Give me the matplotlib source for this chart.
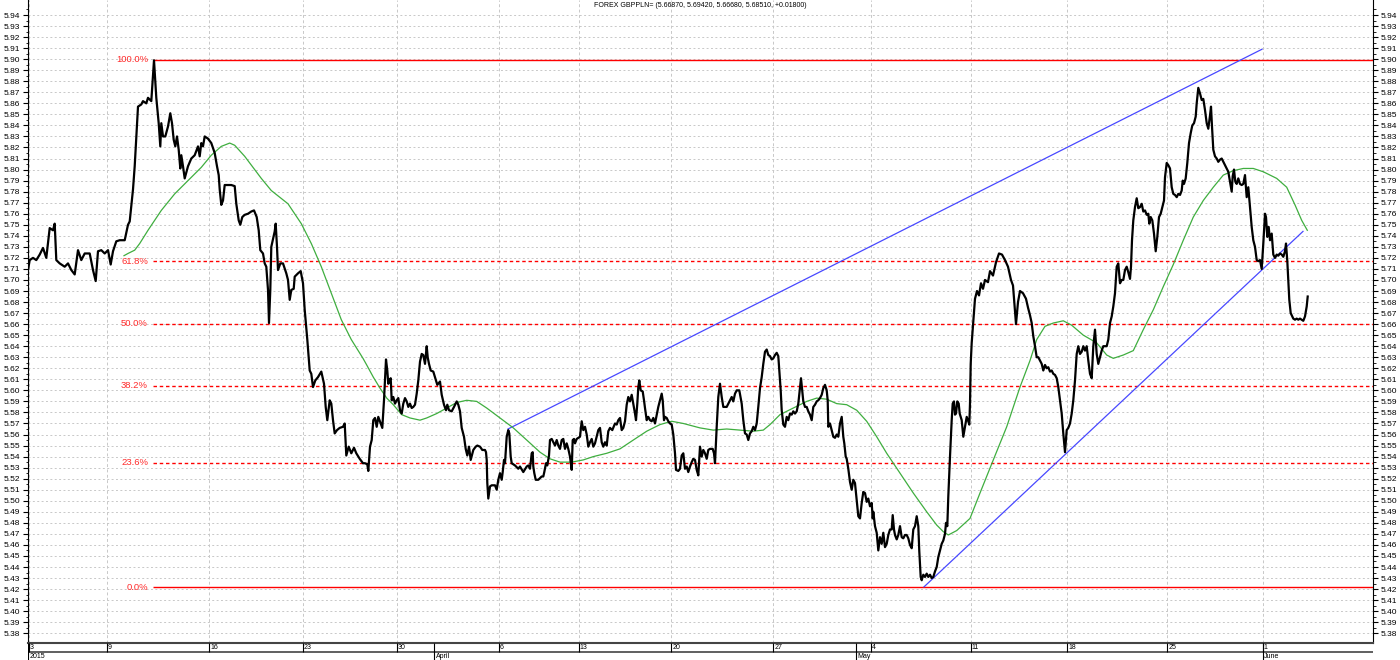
import matplotlib
matplotlib.use("Agg")
import numpy as np
import matplotlib.pyplot as plt
from matplotlib.ticker import FixedLocator, FormatStrFormatter

plt.rcParams['font.family'] = ['Liberation Sans', 'DejaVu Sans']

title = "FOREX GBPPLN= (5.66870, 5.69420, 5.66680, 5.68510, +0.01800)"

# intraday bar number (from 3 March 2015) and close price
bar = [
    0, 1.7, 5, 8.3, 11.7, 15, 18.3, 21.7, 25, 26.7, 28.3, 31.7, 36.7, 40, 43.3, 46.7, 50, 53.3, 56.7, 61.7,
    65, 67.7, 70, 73.3, 76.7, 80, 82.7, 85, 88.3, 91.7, 96.7, 100, 101.7, 105, 106.7, 110, 113.3, 115, 118.3, 120,
    123.3, 126, 128.3, 130.7, 132.3, 133.3, 135, 137.3, 140, 142.3, 144, 145.7, 147.3, 149, 150.7, 152.3, 153.3,
    155, 156.7, 160, 163.3, 166.7, 170, 171.7, 173.3, 175, 176.7, 180, 183.3, 186.7, 189, 190.7, 191.7, 193.3,
    195, 196.7, 200, 203.3, 206.7, 208.3, 210.7, 212.3, 214.3, 216.7, 220, 223.3, 226, 228.7, 230.7, 232.3, 235,
    236.7, 238.3, 240, 241, 242.3, 243.3, 246.7, 247.7, 249, 250, 252.3, 255, 258.3, 260, 261.7, 263.3, 265.7,
    266.7, 270, 272.7, 275, 276.7, 279.3, 281.7, 283.3, 285, 287.3, 290, 293.3, 296, 297.7, 299.3, 301.7, 303.3,
    305, 306.7, 309, 311.7, 315, 316.7, 318.3, 320.7, 323.3, 326, 328.3, 331.7, 335,
    337, 339.3, 340.3, 342, 343.7, 345.3, 347, 348.7, 350.3, 352.7, 354.3, 356, 357, 358, 359.3, 360.3, 361.3,
    362.7, 363.7, 365.3, 367, 368.7, 370.3, 372, 373.7, 375.3, 377, 378.7, 380.3, 382, 383.7, 385.3, 387, 388.7,
    390.3, 392, 393.7, 395.3, 397, 398.7, 399.7, 401, 402.7, 405.3, 408, 409.3, 412, 413.7, 416, 418, 419.3, 421,
    423.7, 426, 428.7, 430.3, 432, 433.7, 436, 437.7, 439.3, 441, 442.7, 445.3, 447.7, 449.3, 452, 454.3, 457, 458,
    458.7, 459.3, 460.3, 462, 463.7, 465.3, 467, 468.7, 470.3, 472, 473.7, 474.7, 476, 477, 478.7, 480.3, 481.3,
    482.7, 483.7, 487, 490.3, 492, 495.3, 498.7, 500.3, 502, 503.7, 504.7, 505.3, 506.3, 507.7, 510.3, 513.7,
    515.3, 516.3, 518, 519.3, 521, 522, 523.7, 525.3, 527, 528.7, 530.3, 532, 533.7, 535.3, 537, 538.7, 540.3,
    542, 543.7, 544.7, 546, 547, 548.7, 552, 553.7, 555.3, 557, 558.7, 560.3, 562, 563.7, 565.3, 567, 568.7,
    570.3, 572, 573.7, 575.3, 577, 578.7, 580.3, 582, 584.3, 587, 588.7, 590.3, 592, 593.7, 595.3, 597, 598.7,
    600.3, 602, 603.7, 605.3, 607, 608, 609.3, 610.3, 611.3, 612.7, 614.7, 616, 617, 618.7, 620.3, 622, 623.7,
    625.3, 627, 628.7, 630.3, 632, 633.7, 634.7, 636, 637, 638.7, 640.3, 642, 643.7, 645.3, 647, 648, 650.3, 652,
    653.7, 655.3, 657, 658.7, 660.3, 662, 663.7, 665.3, 667, 668.7, 670.3,
    672, 673.7, 675.3, 677, 678.7, 680.3, 682, 684.7, 686, 687, 688.7, 690.3, 692, 693.7, 695.3, 698.7, 702,
    703.7, 705.3, 707, 708.7, 711.3, 713.7, 715.3, 717, 718.7, 720.3, 722, 723.7, 725.3, 727, 728.7, 730.3, 732,
    733.7, 735.3, 737, 738.7, 740.3, 742, 743.7, 745.3, 747, 748.7, 750.3, 751.3, 752.7, 753.7, 755.3, 757, 758.7,
    760.3, 762, 763.7, 765.3, 767, 768.7, 770.3, 772, 773, 774, 775.3, 777, 778.7, 780.3, 782, 783.7, 785.3, 787,
    788.7, 790.3, 792, 793.7, 795.3, 797, 798.7, 799.7, 800.3, 802, 803.7, 805.3, 807, 808.7, 810.3, 812, 813.7,
    815.3, 816.3, 817.7, 818.7, 820.3, 822, 823.7, 825.3, 827, 828.7, 830.3, 832, 833.7, 835.3, 837, 838.7, 840.3,
    842, 843.7, 844.7, 845.3, 847, 848.7, 850.3, 852, 853.7, 855.3, 857, 858.7, 860.3, 862, 863.7, 864.7, 866,
    867, 868.7, 870.3, 872, 873.7, 875.3, 877, 878.7, 880.3, 882, 883.7, 885.3, 887, 888.7, 890.3, 891.3, 892.7,
    893.7, 895.3, 897, 898.7, 900.3, 902, 903.7, 905.3, 907, 908.7, 910.3, 912, 913.7, 915.3, 917, 918, 919.3,
    920.3, 922, 923.7, 924.7, 926, 927, 928, 929.3, 930.7, 931.7, 932.7, 933.7, 935.3, 937, 938.7, 940.3, 941.3,
    942, 942.7, 943.7, 944.7,
    947, 949, 951, 953, 955, 957, 960, 962, 965, 968, 971, 974, 977, 980, 983, 985, 987, 988, 990, 992, 995, 998,
    1000,
    1002, 1003.7, 1005.3, 1007, 1008.7, 1010.3, 1012, 1013.7, 1015.3, 1017, 1018.7, 1020.3, 1022, 1023.7, 1025.3,
    1027, 1028.7, 1030.3, 1032, 1033.7, 1035.3, 1037, 1038.7, 1040.3, 1042, 1043.7, 1045.3, 1047, 1048.7, 1050.3,
    1052, 1053.7, 1055.3, 1057, 1058.7, 1060.3, 1062, 1063.7, 1065.3, 1067, 1068.7, 1070.3, 1072, 1073.7, 1075.3,
    1078.7, 1080.3, 1082, 1083.7, 1085.3, 1087, 1088.7, 1090.3, 1092, 1093.7, 1095.3, 1097, 1098.7, 1100.3, 1102,
    1103, 1104, 1105.3, 1107, 1108.7, 1110.3, 1112, 1113.7, 1115.3, 1117, 1118.7, 1120.3, 1121.3, 1122.7, 1124.3,
    1126, 1127.7, 1129.3, 1131, 1132.7, 1134.3, 1136, 1137, 1138.7, 1140.3, 1142, 1143.7, 1145.3, 1147, 1148.7,
    1150.3, 1152, 1153.7, 1154.7, 1156, 1157.7, 1159.3, 1161, 1162.7, 1164.3, 1166, 1167.7, 1168.7, 1170.3, 1172,
    1173.7, 1175.3, 1177, 1178.7, 1180.3, 1182, 1183, 1184, 1185.3, 1187, 1188.7, 1190.3, 1192, 1193.7, 1195.3,
    1197, 1198.7, 1200.3, 1202, 1203.7, 1204.7, 1206, 1207.3, 1208.7, 1210.3, 1212, 1213.7, 1215.3, 1217, 1218.7,
    1220.3, 1222, 1223.7, 1225.3, 1227, 1228.7, 1230.3, 1232, 1233.7, 1235.3, 1237, 1238, 1239.3, 1240.7, 1242,
    1243.7, 1245.3, 1247, 1248.7, 1250.3, 1252, 1253.7, 1255.3, 1257, 1258, 1259.3, 1260.3, 1261.3, 1262.7,
    1265.3, 1267, 1268.7, 1270.3, 1272, 1273.7, 1275.3, 1277, 1278.7, 1279.7,
]
close = [
    5.709, 5.718, 5.720, 5.718, 5.723, 5.729, 5.720, 5.747, 5.745, 5.751, 5.718, 5.715, 5.712, 5.715, 5.709, 5.705,
    5.727, 5.718, 5.724, 5.724, 5.709, 5.699, 5.726, 5.727, 5.724, 5.727, 5.714, 5.726, 5.735, 5.736, 5.736, 5.750,
    5.753, 5.782, 5.803, 5.857, 5.859, 5.862, 5.860, 5.865, 5.862, 5.899, 5.865, 5.842, 5.821, 5.842, 5.830, 5.830,
    5.839, 5.851, 5.842, 5.827, 5.821, 5.830, 5.818, 5.801, 5.813, 5.803, 5.792, 5.803, 5.810, 5.813, 5.821, 5.812,
    5.824, 5.821, 5.830, 5.828, 5.824, 5.815, 5.803, 5.795, 5.782, 5.768, 5.772, 5.786, 5.786, 5.786, 5.785, 5.769,
    5.754, 5.750, 5.757, 5.759, 5.760, 5.762, 5.763, 5.757, 5.745, 5.727, 5.724, 5.715, 5.712, 5.691, 5.661, 5.691,
    5.730, 5.744, 5.751, 5.730, 5.709, 5.715, 5.715, 5.706, 5.700, 5.682, 5.691, 5.692, 5.703, 5.706, 5.708, 5.697,
    5.673, 5.646, 5.618, 5.615, 5.603, 5.609, 5.612, 5.617, 5.606, 5.585, 5.573, 5.591, 5.588, 5.573, 5.561, 5.564,
    5.566, 5.567, 5.570, 5.541, 5.549, 5.543, 5.548, 5.543, 5.538, 5.534,
    5.534, 5.533, 5.527, 5.549, 5.555, 5.573, 5.575, 5.567, 5.576, 5.570, 5.566, 5.591, 5.609, 5.628, 5.618, 5.606,
    5.609, 5.611, 5.591, 5.594, 5.588, 5.591, 5.593, 5.582, 5.579, 5.588, 5.593, 5.590, 5.585, 5.588, 5.584, 5.585,
    5.587, 5.597, 5.609, 5.626, 5.633, 5.632, 5.624, 5.640, 5.630, 5.624, 5.618, 5.617, 5.609, 5.605, 5.608, 5.596,
    5.587, 5.582, 5.587, 5.582, 5.581, 5.585, 5.590, 5.587, 5.581, 5.566, 5.558, 5.547, 5.541, 5.549, 5.537, 5.546,
    5.549, 5.550, 5.549, 5.546, 5.546, 5.544, 5.537, 5.516, 5.502, 5.513, 5.514, 5.514, 5.514, 5.510, 5.519, 5.525,
    5.519, 5.526, 5.537, 5.534, 5.558, 5.564, 5.561, 5.540, 5.534, 5.532, 5.529, 5.531, 5.526, 5.531, 5.532, 5.529,
    5.543, 5.544, 5.531, 5.525, 5.519, 5.519, 5.522, 5.522, 5.526, 5.534, 5.532, 5.541, 5.555, 5.556, 5.553, 5.550,
    5.555, 5.550, 5.547, 5.555, 5.556, 5.547, 5.552, 5.547, 5.540, 5.528, 5.555, 5.556, 5.552, 5.556, 5.558, 5.572,
    5.564, 5.567, 5.560, 5.549, 5.553, 5.556, 5.549, 5.552, 5.558, 5.564, 5.566, 5.553, 5.549, 5.553, 5.550, 5.563,
    5.566, 5.564, 5.570, 5.569, 5.573, 5.575, 5.564, 5.566, 5.572, 5.587, 5.594, 5.590, 5.596, 5.588, 5.579, 5.573,
    5.588, 5.603, 5.609, 5.600, 5.599, 5.591, 5.584, 5.573, 5.576, 5.573, 5.572, 5.575, 5.570, 5.578, 5.585, 5.591,
    5.597, 5.591, 5.573, 5.576, 5.575, 5.572, 5.570, 5.569, 5.560, 5.543, 5.528, 5.527, 5.529, 5.541, 5.543, 5.529,
    5.531, 5.526, 5.531, 5.535, 5.538, 5.537, 5.528, 5.523,
    5.549, 5.540, 5.546, 5.543, 5.538, 5.546, 5.547, 5.547, 5.543, 5.534, 5.567, 5.594, 5.606, 5.594, 5.585, 5.585,
    5.591, 5.594, 5.590, 5.597, 5.600, 5.600, 5.588, 5.573, 5.561, 5.560, 5.555, 5.561, 5.563, 5.567, 5.564, 5.570,
    5.585, 5.602, 5.612, 5.624, 5.635, 5.637, 5.632, 5.631, 5.628, 5.629, 5.632, 5.634, 5.631, 5.618, 5.600, 5.582,
    5.569, 5.567, 5.576, 5.573, 5.579, 5.578, 5.581, 5.579, 5.581, 5.588, 5.602, 5.611, 5.602, 5.590, 5.585, 5.585,
    5.581, 5.578, 5.573, 5.585, 5.587, 5.590, 5.591, 5.593, 5.596, 5.602, 5.605, 5.600, 5.591, 5.567, 5.570, 5.564,
    5.558, 5.557, 5.560, 5.558, 5.570, 5.576, 5.558, 5.552, 5.540, 5.538, 5.529, 5.517, 5.510, 5.519, 5.516, 5.501,
    5.486, 5.484, 5.498, 5.508, 5.507, 5.499, 5.502, 5.495, 5.498, 5.484, 5.490, 5.477, 5.471, 5.455, 5.467, 5.461,
    5.471, 5.458, 5.461, 5.469, 5.474, 5.474, 5.487, 5.474, 5.469, 5.465, 5.469, 5.477, 5.467, 5.466, 5.469, 5.469,
    5.466, 5.460, 5.457, 5.474, 5.477, 5.486, 5.477, 5.454, 5.431, 5.428, 5.433, 5.431, 5.434, 5.431, 5.433, 5.430,
    5.431, 5.436, 5.440, 5.449, 5.455, 5.461, 5.464, 5.470, 5.480, 5.477, 5.504, 5.540, 5.573, 5.588, 5.590, 5.578,
    5.579, 5.590, 5.588, 5.579, 5.576, 5.573, 5.558, 5.567, 5.576, 5.572, 5.569, 5.588, 5.624, 5.643, 5.655,
    5.683, 5.690, 5.686, 5.697, 5.692, 5.700, 5.698, 5.708, 5.704, 5.716, 5.724, 5.723, 5.718, 5.712, 5.700, 5.695,
    5.672, 5.660, 5.680, 5.690, 5.688, 5.683, 5.675,
    5.668, 5.661, 5.649, 5.640, 5.630, 5.630, 5.627, 5.624, 5.618, 5.623, 5.620, 5.621, 5.617, 5.618, 5.615, 5.614,
    5.611, 5.603, 5.591, 5.579, 5.561, 5.544, 5.564, 5.566, 5.570, 5.579, 5.591, 5.609, 5.633, 5.640, 5.633, 5.635,
    5.640, 5.636, 5.640, 5.627, 5.615, 5.611, 5.640, 5.655, 5.633, 5.624, 5.630, 5.636, 5.640, 5.640, 5.646, 5.661,
    5.667, 5.676, 5.688, 5.712, 5.715, 5.697, 5.700, 5.700, 5.709, 5.712, 5.707, 5.701, 5.712, 5.736, 5.754, 5.766,
    5.774, 5.765, 5.766, 5.769, 5.762, 5.763, 5.759, 5.760, 5.751, 5.757, 5.754, 5.742, 5.726, 5.739, 5.757, 5.760,
    5.766, 5.772, 5.793, 5.806, 5.804, 5.801, 5.784, 5.778, 5.777, 5.775, 5.778, 5.777, 5.781, 5.790, 5.787, 5.792,
    5.806, 5.824, 5.833, 5.840, 5.842, 5.848, 5.860, 5.874, 5.869, 5.863, 5.864, 5.854, 5.842, 5.837, 5.849, 5.857,
    5.839, 5.818, 5.812, 5.810, 5.807, 5.809, 5.810, 5.807, 5.804, 5.801, 5.798, 5.789, 5.780, 5.794, 5.800, 5.789,
    5.787, 5.792, 5.787, 5.786, 5.787, 5.795, 5.775, 5.784, 5.766, 5.748, 5.736, 5.730, 5.718, 5.717, 5.718, 5.710,
    5.733, 5.760, 5.757, 5.739, 5.748, 5.736, 5.742, 5.723, 5.720, 5.723, 5.722, 5.724, 5.723, 5.721, 5.726, 5.733,
    5.717, 5.700, 5.682, 5.670, 5.665, 5.664, 5.665, 5.664, 5.665, 5.664, 5.663, 5.667, 5.676, 5.685,
]

# green moving average
ma_bar = [96, 100, 106.7, 111.7, 120, 133.3, 146.7, 160, 173.3, 183.3, 193.3, 201.7, 206.7, 216.7, 233.3, 243.3,
          260, 273.3, 283.3, 293.3, 303.3, 313.3, 323.3, 335, 338.7, 345.3, 352, 358.7, 365.3, 373.7, 382, 392,
          398.7, 408.7, 418.7, 428.7, 438.7, 448.7, 458.7, 472, 485.3, 498.7, 512, 522, 532, 543.7, 555.3, 565.3,
          578.7, 592, 605.3, 618.7, 632, 643.7, 655.3, 672, 685.3, 698.7, 712, 725.3, 735.3, 742, 752, 765.3, 778.7,
          788.7, 798.7, 808.7, 818.7, 828.7, 838.7, 848.7, 858.7, 872, 885.3, 898.7, 908.7, 915.3, 920.3, 928.7,
          942, 952, 965.3, 978.7, 992, 1002, 1008.7, 1017, 1025.3, 1035.3, 1043.7, 1055.3, 1068.7, 1078.7, 1085.3,
          1095.3, 1105.3, 1115.3, 1125.3, 1135.3, 1145.3, 1155.3, 1165.3, 1175.3, 1185.3, 1195.3, 1205.3, 1215.3,
          1225.3, 1235.3, 1248.7, 1258.7, 1267, 1273.7, 1279.3]
ma = [5.722, 5.724, 5.727, 5.733, 5.745, 5.763, 5.778, 5.790, 5.802, 5.813, 5.821, 5.824, 5.822, 5.812, 5.792,
      5.781, 5.769, 5.751, 5.733, 5.712, 5.688, 5.664, 5.646, 5.629, 5.623, 5.612, 5.602, 5.593, 5.587, 5.578,
      5.575, 5.573, 5.575, 5.579, 5.584, 5.589, 5.591, 5.590, 5.584, 5.575, 5.566, 5.555, 5.544, 5.538, 5.535,
      5.535, 5.537, 5.540, 5.543, 5.547, 5.555, 5.563, 5.569, 5.572, 5.570, 5.566, 5.564, 5.565, 5.564, 5.563,
      5.564, 5.569, 5.578, 5.584, 5.590, 5.593, 5.592, 5.588, 5.587, 5.582, 5.572, 5.558, 5.543, 5.525, 5.507,
      5.490, 5.478, 5.472, 5.469, 5.473, 5.484, 5.507, 5.537, 5.567, 5.603, 5.627, 5.646, 5.658, 5.661, 5.663,
      5.659, 5.650, 5.643, 5.632, 5.629, 5.632, 5.636, 5.655, 5.673, 5.694, 5.714, 5.736, 5.757, 5.772, 5.784,
      5.795, 5.799, 5.801, 5.801, 5.798, 5.792, 5.784, 5.768, 5.754, 5.745]

# trend lines
upper_bar = [480, 1234]
upper_px = [5.565, 5.909]
lower_bar = [896, 1275]
lower_px = [5.422, 5.744]

# fibonacci retracement
fib_high = 5.8995
fib_low = 5.4215
fib_start = 125
fib_levels = [1.0, 0.618, 0.5, 0.382, 0.236, 0.0]

# date axis
week_bars = [0.7, 78.7, 181.3, 274.7, 368.7, 471, 550.7, 643.3, 745.3, 843, 942.7, 1039.3, 1139.3, 1234.7]
week_labels = ['3', '9', '16', '23', '30', '6', '13', '20', '27', '4', '11', '18', '25', '1']
month_bars = [0, 406.3, 827.7, 1234.7]
month_labels = ['2015', 'April', 'May', 'June']
y_ticks = [round(5.38 + 0.01 * i, 2) for i in range(57)]

x_end = 1345
fig = plt.figure(figsize=(14, 6.6), dpi=100)
ax = fig.add_axes([28 / 1400, 17 / 660, 1345 / 1400, 643 / 660])

ax.plot(bar, close, color='black', lw=1.6, zorder=6)
ax.plot(ma_bar, ma, color='#3fae3f', lw=0.9, zorder=5)
ax.plot(upper_bar, upper_px, color='#4848ff', lw=0.9, zorder=4)
ax.plot(lower_bar, lower_px, color='#4848ff', lw=0.9, zorder=4)

for lev in fib_levels:
    price = fib_low + lev * (fib_high - fib_low)
    ls = '-' if lev in (0.0, 1.0) else (0, (2.5, 2))
    ax.hlines(price, fib_start, x_end, colors='#ff0000', linestyles=ls, lw=1.0, zorder=3)
    ax.text(fib_start - 5, price, f'{lev * 100:.1f}%', color='#ff2a2a', fontsize=6.8,
            ha='right', va='center', zorder=3)

ax.set_xlim(0, x_end)
ax.set_ylim(5.37116, 5.95359)
ax.yaxis.set_major_locator(FixedLocator(y_ticks))
ax.yaxis.set_minor_locator(FixedLocator([t + 0.005 for t in y_ticks]))
ax.yaxis.set_major_formatter(FormatStrFormatter('%.2f'))
ax.tick_params(axis='y', which='both', left=True, right=True, labelleft=True, labelright=True,
               labelsize=6, direction='out', pad=2)
ax.tick_params(axis='y', which='major', length=3.5, width=0.8)
ax.tick_params(axis='y', which='minor', length=1.8, width=0.6)
ax.set_xticks(week_bars)
ax.tick_params(axis='x', which='both', length=0, labelbottom=False)
ax.grid(axis='y', which='major', color='#c8c8c8', ls=(0, (2, 2.5)), lw=0.7)
ax.grid(axis='x', color='#c8c8c8', ls=(0, (3, 2.5)), lw=0.7)
ax.spines['top'].set_visible(False)
ax.spines['bottom'].set_color('#444444')
ax.spines['bottom'].set_linewidth(1.5)
ax.text(0.5, 0.997, title, transform=ax.transAxes, ha='center', va='top', fontsize=5)

# two-row date strip
axd = fig.add_axes([28 / 1400, 0, 1345 / 1400, 17 / 660])
axd.set_xlim(0, x_end)
axd.set_ylim(0, 1)
axd.axis('off')
axd.axhline(0.47, color='#444444', lw=1.2)
axd.vlines(week_bars, 0.47, 1, color='black', lw=0.8)
axd.vlines(month_bars, 0, 1, color='black', lw=0.8)
for b, lab in zip(week_bars, week_labels):
    axd.text(b + 1, 0.74, lab, fontsize=5, ha='left', va='center')
for b, lab in zip(month_bars, month_labels):
    axd.text(b + 1.5, 0.2, lab, fontsize=5, ha='left', va='center')

fig.savefig('out.png', dpi=100)
